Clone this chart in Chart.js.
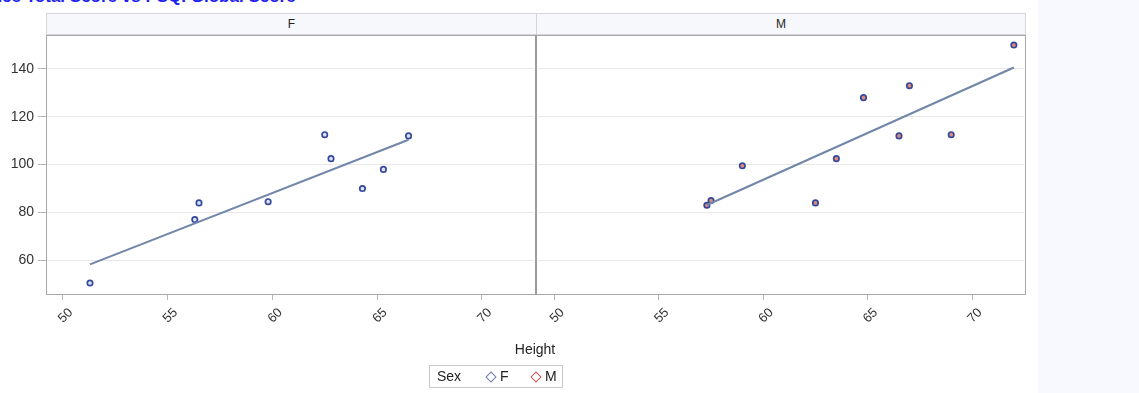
<!DOCTYPE html>
<html lang="en">
<head>
  <meta charset="UTF-8">
  <title>Score vs Height by Sex</title>
  <script src="https://cdn.jsdelivr.net/npm/chart.js"></script>
  <style>
    body { margin: 0; background: #fff; font-family: "Liberation Sans", Arial, sans-serif; }
    #page { position: relative; width: 1139px; height: 393px; overflow: hidden; }
    .side { position: absolute; left: 1038px; top: 0; width: 101px; height: 393px; background: #F8F9FE; }
    .title { position: absolute; left: -13px; top: -11px; font-size: 17px; line-height: 16px; font-weight: bold; color: #2020F0; white-space: nowrap; }
    .strip { position: absolute; top: 13px; height: 22px; background: #F7F8FC; border: 1px solid #D6D6D6; box-sizing: border-box;
             font-size: 12px; color: #222; text-align: center; line-height: 20px; }
    .frame { position: absolute; left: 46px; top: 35px; width: 980px; height: 260px; border: 1px solid #A8A8A8; box-sizing: border-box; pointer-events: none; }
    .divider { position: absolute; left: 535px; top: 35px; width: 2px; height: 260px; background: #9A9A9A; pointer-events: none; }
    .cv { position: absolute; top: 30px; }
    .xtitle { position: absolute; left: 485px; width: 100px; top: 341px; text-align: center; font-size: 14px; color: #222; }
    .legend { position: absolute; left: 429px; top: 365px; width: 134px; height: 23px; border: 1px solid #C8C8C8; box-sizing: border-box;
              font-size: 14px; color: #222; line-height: 21px; }
    .legend span { position: absolute; top: 0; }
    .dia { position: absolute; top: 7px; width: 6px; height: 6px; border: 1px solid; transform: rotate(45deg); background: #fff; }
  </style>
</head>
<body>
<div id="page">
  <div class="side"></div>
  <div class="title">ince Total Score vs PSQI Global Score</div>
  <div class="strip" style="left:46px; width:491px;">F</div>
  <div class="strip" style="left:536px; width:490px;">M</div>

  <canvas id="chartF" class="cv" style="left:0px;" width="540" height="320"></canvas>
  <canvas id="chartM" class="cv" style="left:532px;" width="498" height="320"></canvas>

  <div class="frame"></div>
  <div class="divider"></div>

  <div class="xtitle">Height</div>
  <div class="legend">
    <span style="left:7px;">Sex</span>
    <div class="dia" style="left:57px; border-color:#6F7EB3;"></div>
    <span style="left:70px;">F</span>
    <div class="dia" style="left:102px; border-color:#C65A5A;"></div>
    <span style="left:115px;">M</span>
  </div>
</div>

<script>
  // panel F
  const heightF = [56.5, 65.3, 62.8, 59.8, 62.5, 51.3, 64.3, 56.3, 66.5];
  const scoreF  = [84, 98, 102.5, 84.5, 112.5, 50.5, 90, 77, 112];
  const fitXF = [51.3, 66.5];
  const fitYF = [58.3, 110.4];

  // panel M
  const heightM = [69, 63.5, 57.3, 62.5, 59, 72, 64.8, 67, 57.5, 66.5];
  const scoreM  = [112.5, 102.5, 83, 84, 99.5, 150, 128, 133, 85, 112];
  const fitXM = [57.3, 72];
  const fitYM = [83.1, 140.6];

  const xTicks = [50, 55, 60, 65, 70];
  const yTicks = [60, 80, 100, 120, 140];

  const FAMILY = '"Liberation Sans", Arial, sans-serif';

  function pts(xs, ys) {
    return xs.map((x, i) => ({ x: x, y: ys[i] }));
  }

  function makePanel(id, hx, sy, fx, fy, markerFill, showY) {
    const ctx = document.getElementById(id).getContext('2d');
    return new Chart(ctx, {
      type: 'scatter',
      data: {
        datasets: [
          {
            label: 'Fit',
            type: 'line',
            data: pts(fx, fy),
            borderColor: '#7186A8',
            borderWidth: 2,
            pointRadius: 0,
            fill: false
          },
          {
            label: 'Score',
            data: pts(hx, sy),
            pointStyle: 'circle',
            pointRadius: 2.7,
            borderWidth: 1.7,
            borderColor: '#34499C',
            backgroundColor: markerFill
          }
        ]
      },
      options: {
        responsive: false,
        animation: false,
        layout: { padding: showY ? { left: 0, top: 5, right: 4, bottom: 0 } : { left: 0, top: 5, right: 5, bottom: 0 } },
        plugins: { legend: { display: false }, tooltip: { enabled: false } },
        scales: {
          x: {
            type: 'linear',
            min: 49.2,
            max: 72.5,
            afterBuildTicks: s => { s.ticks = xTicks.map(v => ({ value: v })); },
            afterFit: s => { s.height = 56; s.paddingLeft = 0; s.paddingRight = 0; },
            border: { display: false },
            grid: { drawOnChartArea: false, tickColor: '#B4B4B4', tickLength: 6 },
            ticks: { font: { family: FAMILY, size: 13 }, color: '#333', minRotation: 45, maxRotation: 45, padding: 5, labelOffset: 8 }
          },
          y: {
            type: 'linear',
            min: 45.9,
            max: 153.9,
            afterBuildTicks: s => { s.ticks = yTicks.map(v => ({ value: v })); },
            afterFit: s => { s.width = showY ? 46 : 0; s.paddingTop = 0; s.paddingBottom = 0; },
            border: { display: false },
            grid: { color: '#E8E8E8', tickColor: '#B4B4B4', tickLength: 8, drawTicks: showY },
            ticks: { display: showY, font: { family: FAMILY, size: 14 }, color: '#333', padding: 4 }
          }
        }
      }
    });
  }

  makePanel('chartF', heightF, scoreF, fitXF, fitYF, '#DDE3F5', true);
  makePanel('chartM', heightM, scoreM, fitXM, fitYM, '#E08A7A', false);
</script>
</body>
</html>
